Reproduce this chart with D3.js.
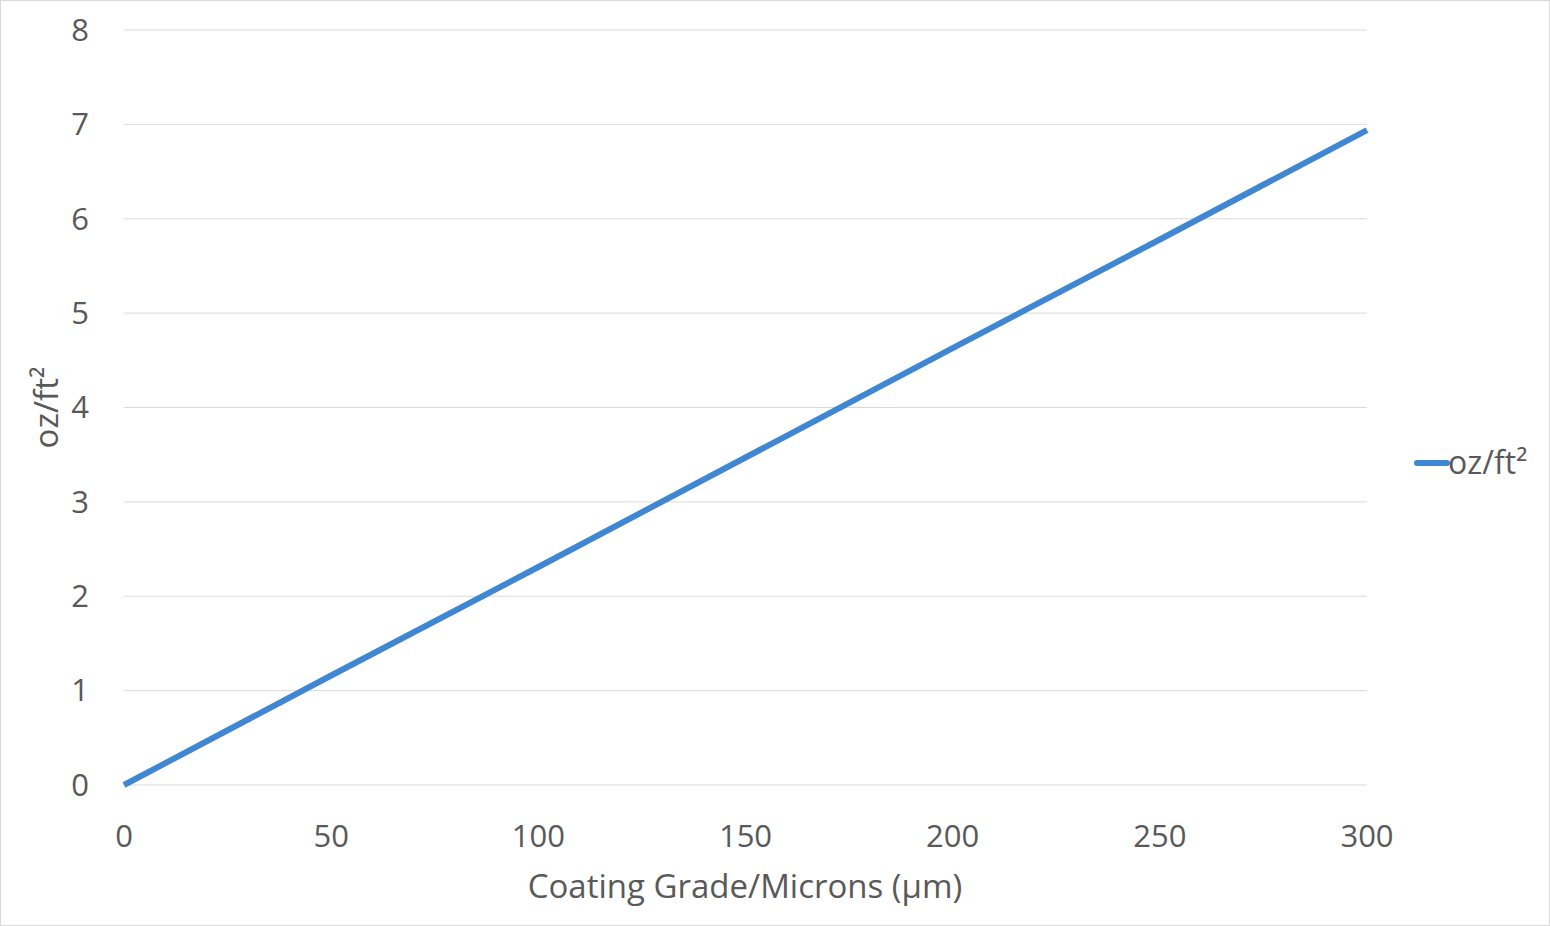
<!DOCTYPE html>
<html><head><meta charset="utf-8">
<script src="https://cdn.jsdelivr.net/npm/d3@7"></script>
<style>body{margin:0;background:#fff}text{font-family:"Open Sans",sans-serif;fill:#595959}</style>
</head><body>
<svg id="chart" width="1550" height="926"></svg>
<script>
// values
var microns = [0, 50, 100, 150, 200, 250, 300];
var ozPerFt2 = [0, 1.16, 2.31, 3.47, 4.63, 5.78, 6.94];
var xTicks = [0, 50, 100, 150, 200, 250, 300];
var yTicks = [0, 1, 2, 3, 4, 5, 6, 7, 8];

var svg = d3.select("#chart");
svg.append("rect").attr("x", 0.5).attr("y", 0.5).attr("width", 1549).attr("height", 925)
  .attr("fill", "#fff").attr("stroke", "#d9d9d9");

var x = d3.scaleLinear().domain([0, 300]).range([124, 1367]);
var y = d3.scaleLinear().domain([0, 8]).range([785, 30]);

// gridlines
svg.append("g").selectAll("line").data(yTicks).join("line")
  .attr("x1", x(0)).attr("x2", x(300))
  .attr("y1", d => y(d)).attr("y2", d => y(d))
  .attr("stroke", "#d9d9d9").attr("stroke-width", 1);

// y tick labels
svg.append("g").selectAll("text").data(yTicks).join("text")
  .attr("x", 89).attr("y", d => y(d)).attr("dy", "0.35em")
  .attr("text-anchor", "end").attr("font-size", 31).text(d => d);

// x tick labels
svg.append("g").selectAll("text").data(xTicks).join("text")
  .attr("x", d => x(d)).attr("y", 836).attr("dy", "0.35em")
  .attr("text-anchor", "middle").attr("font-size", 31).text(d => d);

// axis titles
svg.append("text").attr("x", 745).attr("y", 886).attr("dy", "0.35em")
  .attr("text-anchor", "middle").attr("font-size", 33).text("Coating Grade/Microns (µm)");
svg.append("text").attr("transform", "translate(46," + y(4) + ") rotate(-90)")
  .attr("dy", "0.35em").attr("text-anchor", "middle").attr("font-size", 33).text("oz/ft²");

// line
var line = d3.line().x((d, i) => x(microns[i])).y(d => y(d));
svg.append("path").datum(ozPerFt2).attr("d", line)
  .attr("fill", "none").attr("stroke", "#3f87d2").attr("stroke-width", 6);

// legend
svg.append("line").attr("x1", 1417).attr("x2", 1447).attr("y1", 463).attr("y2", 463)
  .attr("stroke", "#3f87d2").attr("stroke-width", 6).attr("stroke-linecap", "round");
svg.append("text").attr("x", 1448).attr("y", 463).attr("dy", "0.35em")
  .attr("font-size", 32).text("oz/ft²");
</script>
</body></html>
